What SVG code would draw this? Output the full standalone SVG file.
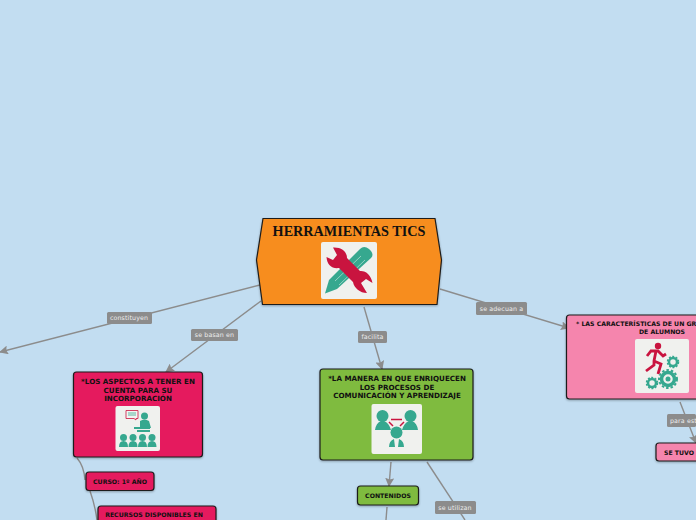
<svg xmlns="http://www.w3.org/2000/svg" width="696" height="520" viewBox="0 0 696 520">
<style>
.c{fill:none;stroke:#8c8c8c;stroke-width:1.4}
.l rect{fill:#8c8c8c}
.l text{font:6.3px "DejaVu Sans",sans-serif;fill:#ececec;text-anchor:middle;letter-spacing:.12px}
.n{stroke:#1c1c1c;stroke-width:1.2;filter:drop-shadow(0 1px 1px rgba(0,0,0,.3))}
.t{font:bold 7.15px "DejaVu Sans",sans-serif;fill:#111;text-anchor:middle}
.s{font-size:6.2px}
.ic{fill:#f0f1ee}
.g{fill:#36a88f}
.r{fill:#c9143f}
</style>
<defs><marker id="a" markerWidth="9" markerHeight="9" refX="8" refY="4.500" orient="auto" markerUnits="userSpaceOnUse"><path d="M0 0L9 4.500L0 9L1.500 4.500Z" fill="#8c8c8c"/></marker></defs>
<rect width="696" height="520" fill="#c2ddf1"/>
<g id="connectors">
<path class="c" d="M260 285L0 352" marker-end="url(#a)"/>
<path class="c" d="M261 301L166 372" marker-end="url(#a)"/>
<path class="c" d="M364 307L382 369" marker-end="url(#a)"/>
<path class="c" d="M440 289L569 328" marker-end="url(#a)"/>
<path class="c" d="M391 462L389 486" marker-end="url(#a)"/>
<path class="c" d="M427 462L465 520"/>
<path class="c" d="M387 507L386 520"/>
<path class="c" d="M77 458Q84 466 85 480"/>
<path class="c" d="M90 491Q95 505 97 520"/>
<path class="c" d="M680 402L696 443" marker-end="url(#a)"/>
</g>
<g class="l">
<rect x="107" y="312" width="45" height="12" rx="1.500"/><text x="129" y="320.300">constituyen</text>
<rect x="191" y="329" width="47" height="12" rx="1.500"/><text x="214.500" y="337.300">se basan en</text>
<rect x="358" y="331" width="29" height="12" rx="1.500"/><text x="372.500" y="339.300">facilita</text>
<rect x="476" y="302" width="51" height="13" rx="1.500"/><text x="501.500" y="310.800">se adecuan a</text>
<rect x="435" y="501" width="41" height="13" rx="1.500"/><text x="455" y="510">se utilizan</text>
<rect x="667" y="414" width="29" height="13" rx="1.500"/><text x="670" y="423" style="text-anchor:start">para esto</text>
</g>
<g id="root">
<path class="n" d="M263 218.500H435L441.500 260L437 304.500H262.500L256.500 260Z" fill="#f78d1e" stroke-width="1"/>
<text x="349" y="236" style="font:bold 14.200px 'Liberation Serif',serif;fill:#111;text-anchor:middle">HERRAMIENTAS TICS</text>
<rect class="ic" x="321" y="242" width="56" height="57" rx="2"/>
<path class="g" d="M360 249Q364 245 369 249L371 251Q374 255 371 258L337 289L325 293.500L329 280Z"/>
<path d="M335 281L361 256M339 285L365 260" stroke="#a9dccf" stroke-width=".8" fill="none"/>
<path class="r" d="M333 247.500C341 247 347 251 347 258L360 271C366 270.500 371 275 372.500 283L366 279L361 283L367 293C360 293 354 288 353 282L339 268C332 269 327 265 326.500 257L333 260L337 255Z"/>
</g>
<g id="aspectos">
<rect class="n" x="73.500" y="372" width="129" height="85" rx="3" fill="#e51a5e"/>
<text class="t" x="138" y="384">*LOS ASPECTOS A TENER EN</text>
<text class="t" x="138" y="393">CUENTA PARA SU</text>
<text class="t" x="138" y="401">INCORPORACIÓN</text>
<rect class="ic" x="115.500" y="406" width="44.500" height="45" rx="2"/>
<path d="M126 410.500H138V418.500H136V420L134 418.500H126Z" fill="#f3f3f1" stroke="#c9143f" stroke-width=".8"/>
<path d="M128 413H136M128 415H136" stroke="#36a88f" stroke-width=".8"/>
<circle class="g" cx="144.500" cy="416" r="3.500"/>
<path class="g" d="M140 421Q144.500 418 149 421L151 428H140ZM134 427H150V429H134ZM137 430H150V432H137Z"/>
<g class="g"><circle cx="123.500" cy="437.500" r="3.500"/><circle cx="133" cy="437.500" r="3.500"/><circle cx="142.500" cy="437.500" r="3.500"/><circle cx="152" cy="437.500" r="3.500"/>
<path d="M119 447Q119 441 123.500 441Q128 441 128 447ZM128.500 447Q128.500 441 133 441Q137.500 441 137.500 447ZM138 447Q138 441 142.500 441Q147 441 147 447ZM147.500 447Q147.500 441 152 441Q156.500 441 156.500 447Z"/></g>
</g>
<g id="curso">
<rect class="n" x="86" y="472" width="68" height="18.500" rx="3" fill="#e51a5e"/>
<text class="t s" x="120" y="483.500">CURSO: 1º AÑO</text>
</g>
<g id="recursos">
<rect class="n" x="98" y="506" width="118" height="24" rx="3" fill="#e51a5e"/>
<text class="t s" x="154" y="517">RECURSOS DISPONIBLES EN</text>
</g>
<g id="manera">
<rect class="n" x="320" y="369" width="153" height="91" rx="3" fill="#7fbb3f"/>
<text class="t" x="397" y="381">*LA MANERA EN QUE ENRIQUECEN</text>
<text class="t" x="397" y="390">LOS PROCESOS DE</text>
<text class="t" x="397" y="398">COMUNICACIÓN Y APRENDIZAJE</text>
<rect class="ic" x="371.500" y="404" width="50.500" height="50" rx="2"/>
<g class="g"><circle cx="382.500" cy="416" r="6"/><circle cx="410.500" cy="416" r="6"/><circle cx="396.500" cy="432.500" r="6"/>
<path d="M375 430Q376 423 381 421H384Q389 423 391 430ZM402 430Q404 423 409 421H412Q417 423 418 430ZM389 447Q389 441 394 439L395 447ZM398 447L399 439Q404 441 404 447Z"/></g>
<path d="M391 419.500H402M389 422L393 426M404 422L400 426" stroke="#c9143f" stroke-width="1.500" fill="none"/>
</g>
<g id="contenidos">
<rect class="n" x="357.500" y="486" width="61" height="19" rx="3" fill="#7fbb3f"/>
<text class="t s" x="388" y="498">CONTENIDOS</text>
</g>
<g id="caracteristicas">
<rect class="n" x="566.500" y="315" width="140" height="84" rx="3" fill="#f585ad"/>
<text class="t s" x="576" y="325.500" style="text-anchor:start">*  LAS CARACTERÍSTICAS DE UN GRUPO</text>
<text class="t s" x="662" y="334">DE ALUMNOS</text>
<rect class="ic" x="635" y="339" width="54" height="54" rx="2"/>
<circle class="r" cx="658" cy="346" r="3.200"/>
<path d="M647 356L651 351H658L663 356L666 354M656 351L654 361L654 365L646 371M654 361L661 364L658 374" stroke="#c9143f" stroke-width="2.800" fill="none"/>
<g fill="none" stroke="#36a88f"><circle cx="673" cy="362" r="4" stroke-width="2.500"/><circle cx="673" cy="362" r="5.500" stroke-width="1.500" stroke-dasharray="2 1.500"/><circle cx="652" cy="383" r="4" stroke-width="2.500"/><circle cx="652" cy="383" r="5.500" stroke-width="1.500" stroke-dasharray="2 1.500"/><circle cx="668" cy="379" r="6.500" stroke-width="3.500"/><circle cx="668" cy="379" r="9" stroke-width="2" stroke-dasharray="2.500 2"/></g>
<circle class="g" cx="668" cy="379" r="2.500"/>
</g>
<g id="setuvo">
<rect class="n" x="656" y="443" width="50" height="18" rx="3" fill="#f585ad"/>
<text class="t s" x="664" y="454.500" style="text-anchor:start">SE TUVO EN</text>
</g>
</svg>
